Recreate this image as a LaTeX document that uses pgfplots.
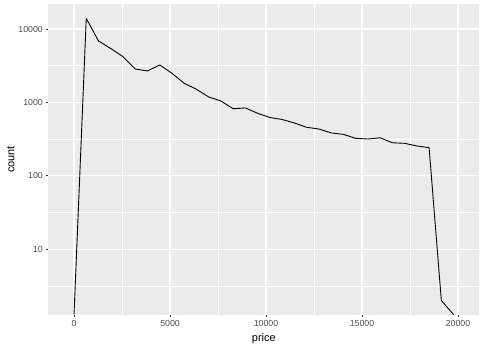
\documentclass[border=0pt]{standalone}
\usepackage{pgfplots}
\pgfplotsset{compat=1.18}
\usepackage{fontspec}
\setmainfont{Liberation Sans}
\definecolor{panelbg}{HTML}{EBEBEB}
\definecolor{tickcol}{HTML}{333333}
\definecolor{ticklab}{HTML}{4D4D4D}
\begin{document}
\begin{tikzpicture}
\begin{axis}[
  scale only axis,
  width=431bp, height=310.4bp,
  at={(0,0)}, anchor=south west,
  xmin=-1339.4, xmax=21111.2,
  ymode=log, ymin=1.285, ymax=21780,
  axis background/.style={fill=panelbg},
  axis line style={draw=none},
  scaled x ticks=false,
  xtick={0,5000,10000,15000,20000},
  xticklabels={0,5000,10000,15000,20000},
  minor xtick={2500,7500,12500,17500},
  ytick={10,100,1000,10000},
  yticklabels={10,100,1000,10000},
  minor ytick={3.1623,31.623,316.23,3162.3},
  xtick pos=bottom, ytick pos=left,
  tick align=outside,
  major tick length=2.75bp,
  minor tick length=0pt,
  tick style={color=tickcol, line width=0.8pt},
  grid=both,
  major grid style={white, line width=1.07pt},
  minor grid style={white, line width=0.53pt},
  /pgf/number format/assume math mode=true,
  ticklabel style={font=\fontsize{8.8}{10}\selectfont, text=ticklab},
  xticklabel style={inner sep=1pt, yshift=-1.5bp},
  yticklabel style={inner sep=1pt, xshift=-1.5bp},
  xlabel={price}, ylabel={count},
  every axis x label/.style={at={(axis description cs:0.5,0)}, anchor=north, yshift=-15bp, font=\fontsize{11}{13}\selectfont, text=black},
  every axis y label/.style={at={(axis description cs:-0.0866,0.5)}, anchor=center, rotate=90, font=\fontsize{11}{13}\selectfont, text=black},
  clip=true,
]
\addplot[black, line width=0.9pt, line join=round] table {
x y
0 1.285
637.8 13990
1275.6 6870
1913.4 5420
2551.2 4200
3189.0 2850
3826.8 2680
4464.6 3240
5102.4 2490
5740.2 1820
6378.0 1510
7015.8 1186
7653.6 1045
8291.4 820
8929.2 840
9567.0 710
10204.8 622
10842.6 585
11480.4 524
12118.2 458
12756.0 434
13393.8 384
14031.6 367
14669.4 324
15307.2 317
15945.0 330
16582.8 282
17220.6 277
17858.4 255
18496.2 242
19134.0 2
19771.8 1.285
};
\end{axis}
\pgfresetboundingbox
\path (-48.3bp,-31.4bp) rectangle (436.7bp,314.6bp);
\end{tikzpicture}
\end{document}
